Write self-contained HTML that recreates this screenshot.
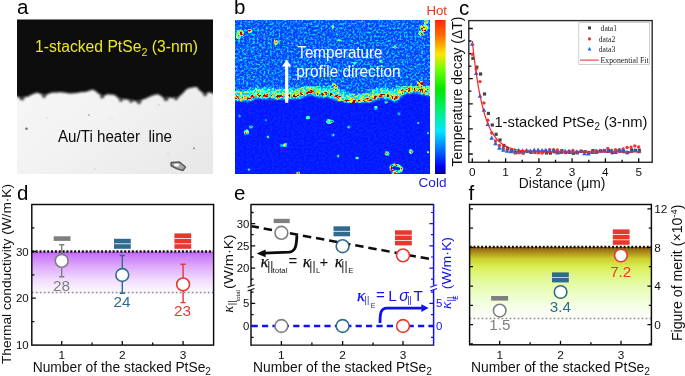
<!DOCTYPE html>
<html><head><meta charset="utf-8"><title>Figure</title>
<style>
html,body{margin:0;padding:0;background:#fff;}
body{width:685px;height:376px;overflow:hidden;}
svg{display:block;}
text{font-family:"Liberation Sans",sans-serif;}
.ser{font-family:"Liberation Serif",serif;}
.it{font-family:"Liberation Serif",serif;font-style:italic;}
.sit{font-family:"Liberation Sans",sans-serif;font-style:italic;}
</style></head><body>
<svg width="685" height="376" viewBox="0 0 685 376">
<defs>
<filter id="blur1" x="-5%" y="-5%" width="110%" height="110%"><feGaussianBlur stdDeviation="1.15"/></filter>
<filter id="blur2" x="-60%" y="-60%" width="220%" height="220%"><feGaussianBlur stdDeviation="0.7"/></filter>
<filter id="blur3" x="-60%" y="-60%" width="220%" height="220%"><feGaussianBlur stdDeviation="1.1"/></filter>
<linearGradient id="gA" x1="0" y1="0" x2="1" y2="1"><stop offset="0" stop-color="#f8f8f8"/><stop offset="0.5" stop-color="#f3f3f3"/><stop offset="1" stop-color="#e7e7e7"/></linearGradient>
<linearGradient id="gCB" x1="0" y1="0" x2="0" y2="1">
<stop offset="0" stop-color="#ff2a00"/><stop offset="0.10" stop-color="#ff6a00"/><stop offset="0.22" stop-color="#ffe600"/>
<stop offset="0.33" stop-color="#66ff00"/><stop offset="0.45" stop-color="#00e800"/><stop offset="0.58" stop-color="#00f070"/>
<stop offset="0.72" stop-color="#00e8ff"/><stop offset="0.85" stop-color="#0068ff"/><stop offset="0.95" stop-color="#0000f4"/><stop offset="1" stop-color="#000090"/>
</linearGradient>
<linearGradient id="gD" x1="0" y1="0" x2="0" y2="1"><stop offset="0" stop-color="#c064f8"/><stop offset="0.12" stop-color="#cc80f9"/><stop offset="0.35" stop-color="#dfacfb"/><stop offset="0.65" stop-color="#f1dcfd"/><stop offset="1" stop-color="#ffffff"/></linearGradient>
<linearGradient id="gF" x1="0" y1="0" x2="0" y2="1"><stop offset="0" stop-color="#8a5814"/><stop offset="0.07" stop-color="#a88a18"/><stop offset="0.16" stop-color="#cccc2c"/><stop offset="0.28" stop-color="#daf058"/><stop offset="0.5" stop-color="#e4fba4"/><stop offset="0.78" stop-color="#f2ffe0"/><stop offset="1" stop-color="#ffffff"/></linearGradient>
<clipPath id="cpA"><rect x="17" y="19.5" width="196" height="154.5"/></clipPath>
<clipPath id="cpB"><rect x="235" y="20" width="195" height="154"/></clipPath>
<filter id="jet" x="235" y="20" width="195" height="154" filterUnits="userSpaceOnUse" color-interpolation-filters="sRGB">
<feTurbulence type="fractalNoise" baseFrequency="0.47" numOctaves="3" seed="11" result="n"/>
<feColorMatrix in="n" type="matrix" values="2.8 0 0 0 -1.16  2.8 0 0 0 -1.16  2.8 0 0 0 -1.16  0 0 0 0 1" result="ng"/>
<feColorMatrix in="SourceGraphic" type="matrix" values="1 0 0 0 0  1 0 0 0 0  1 0 0 0 0  0 0 0 0 1" result="sR"/>
<feColorMatrix in="SourceGraphic" type="matrix" values="0 1 0 0 0  0 1 0 0 0  0 1 0 0 0  0 0 0 0 1" result="sG"/>
<feComposite in="sR" in2="ng" operator="arithmetic" k1="0.24" k2="0.0667" k3="-0.022" k4="0.1217" result="m1"/>
<feComposite in="sG" in2="ng" operator="arithmetic" k1="0.95" k2="0.6" k3="0" k4="0" result="hot"/>
<feBlend in="m1" in2="hot" mode="lighten" result="m"/>
<feComponentTransfer in="m">
<feFuncR type="table" tableValues="0.01 0.02 0.04 0.08 0.5 1 1 1 0.6"/>
<feFuncG type="table" tableValues="0 0.05 0.5 1 1 1 0.5 0.02 0"/>
<feFuncB type="table" tableValues="0.6 1 1 1 0.5 0 0 0 0"/>
<feFuncA type="linear" slope="0" intercept="1"/>
</feComponentTransfer>
</filter>
</defs>
<rect width="685" height="376" fill="#fff"/>

<text x="17" y="14.4" font-size="20.5" fill="#000" text-anchor="start" >a</text>
<text x="234" y="14.4" font-size="20.5" fill="#000" text-anchor="start" >b</text>
<text x="459" y="14.7" font-size="20.5" fill="#000" text-anchor="start" >c</text>
<text x="17" y="199.8" font-size="20.5" fill="#000" text-anchor="start" >d</text>
<text x="234" y="199.8" font-size="20.5" fill="#000" text-anchor="start" >e</text>
<text x="468.5" y="199.8" font-size="20.5" fill="#000" text-anchor="start" >f</text>
<g clip-path="url(#cpA)">
<rect x="17" y="19.5" width="196" height="154.5" fill="url(#gA)"/>
<path d="M10,10 L12.0,96.4 C12.8,96.4 15.5,96.3 17.0,96.6 C18.5,96.8 19.8,97.8 21.0,98.0 C22.2,98.1 22.8,97.4 24.0,97.2 C25.2,97.0 26.7,97.1 28.0,96.6 C29.3,96.2 30.5,95.1 32.0,94.5 C33.5,93.8 35.6,92.9 36.9,92.8 C38.2,92.6 38.8,93.4 40.0,93.8 C41.2,94.2 43.0,94.8 44.2,94.9 C45.5,95.0 46.3,94.7 47.5,94.3 C48.7,94.0 49.9,93.1 51.5,92.8 C53.1,92.5 55.0,92.5 57.0,92.5 C59.0,92.4 61.0,92.3 63.2,92.4 C65.4,92.6 67.6,93.4 70.0,93.4 C72.4,93.5 75.8,93.0 77.8,92.8 C79.8,92.6 80.8,92.3 82.0,92.1 C83.2,92.0 83.8,92.1 85.0,91.9 C86.2,91.7 87.8,91.2 89.0,90.8 C90.2,90.5 91.3,89.6 92.4,89.7 C93.5,89.7 94.5,90.4 95.5,91.1 C96.5,91.8 97.4,93.1 98.2,93.7 C99.0,94.3 99.8,94.1 100.5,94.5 C101.2,95.0 101.8,96.5 102.6,96.6 C103.4,96.6 104.5,95.4 105.5,95.0 C106.5,94.6 107.3,94.4 108.4,94.3 C109.5,94.3 110.9,94.7 112.0,94.8 C113.1,95.0 114.0,94.7 115.0,95.2 C116.0,95.7 117.0,97.3 118.0,97.9 C119.0,98.5 119.6,98.5 120.8,98.7 C122.0,98.9 123.5,99.1 125.0,99.3 C126.5,99.5 128.1,99.7 129.6,99.9 C131.1,100.2 132.5,100.4 134.0,100.7 C135.5,100.9 136.9,101.5 138.4,101.3 C139.9,101.2 141.6,100.1 143.0,99.6 C144.4,99.0 145.5,98.6 147.0,98.0 C148.5,97.3 150.3,96.3 152.0,95.7 C153.7,95.1 155.9,94.2 157.3,94.2 C158.7,94.2 159.6,95.0 160.5,95.5 C161.4,96.1 162.1,96.9 163.0,97.4 C163.9,97.9 165.0,98.5 166.0,98.5 C167.0,98.5 168.0,97.4 169.0,97.4 C170.0,97.3 171.0,98.0 172.0,98.0 C173.0,98.0 174.0,97.5 175.0,97.5 C176.0,97.5 176.9,98.2 177.8,97.8 C178.7,97.4 179.5,96.2 180.5,95.3 C181.5,94.5 182.7,93.5 183.6,92.6 C184.5,91.7 185.3,90.5 186.0,89.8 C186.7,89.1 187.0,88.8 188.0,88.4 C189.0,88.0 190.5,87.6 192.0,87.4 C193.5,87.2 195.6,86.8 196.8,87.2 C198.0,87.6 198.3,89.2 199.0,89.9 C199.7,90.6 200.3,90.9 201.0,91.4 C201.7,91.9 202.2,92.5 203.0,92.9 C203.8,93.3 204.7,94.0 205.5,94.0 C206.3,93.9 207.2,92.7 208.0,92.5 C208.8,92.2 209.2,92.3 210.0,92.5 C210.8,92.7 211.7,93.3 213.0,93.5 C214.3,93.8 217.2,94.1 218.0,94.2 L220,10 Z" fill="#0b0b0b" filter="url(#blur1)"/>
<circle cx="22" cy="98.2" r="2.4" fill="#222" opacity="0.8" filter="url(#blur3)"/>
<circle cx="44" cy="95.8" r="2.2" fill="#222" opacity="0.8" filter="url(#blur3)"/>
<circle cx="102" cy="96.4" r="2" fill="#222" opacity="0.8" filter="url(#blur3)"/>
<circle cx="121" cy="99.6" r="2.2" fill="#222" opacity="0.8" filter="url(#blur3)"/>
<circle cx="131" cy="100.8" r="2" fill="#222" opacity="0.8" filter="url(#blur3)"/>
<circle cx="139" cy="101.8" r="2.4" fill="#222" opacity="0.8" filter="url(#blur3)"/>
<circle cx="166" cy="98.8" r="2.4" fill="#222" opacity="0.8" filter="url(#blur3)"/>
<circle cx="176" cy="98.2" r="2" fill="#222" opacity="0.8" filter="url(#blur3)"/>
<circle cx="205" cy="94.2" r="2" fill="#222" opacity="0.8" filter="url(#blur3)"/>
<circle cx="26.5" cy="128.7" r="1.3" fill="#777" filter="url(#blur2)"/>
<circle cx="89" cy="115" r="0.9" fill="#aaa" filter="url(#blur2)"/>
<circle cx="47" cy="118" r="0.6" fill="#bbb" filter="url(#blur2)"/>
<circle cx="194" cy="148.3" r="1.1" fill="#9a9a9a" filter="url(#blur2)"/>
<circle cx="168" cy="154" r="0.7" fill="#c4c4c4" filter="url(#blur2)"/>
<circle cx="159" cy="105" r="0.7" fill="#bbb" filter="url(#blur2)"/>
<circle cx="95" cy="169" r="0.7" fill="#c8c8c8" filter="url(#blur2)"/>
<circle cx="112" cy="119" r="0.6" fill="#c8c8c8" filter="url(#blur2)"/>
<path d="M171.2,162.6 L179.4,162 L185.4,167 L183,170.4 L177,168.8 L171.2,165.8 Z" fill="#a8a8a8" stroke="#5a5a5a" stroke-width="1.6" stroke-linejoin="round" filter="url(#blur2)"/>
<ellipse cx="176.6" cy="165" rx="2.6" ry="1.5" fill="#fff" filter="url(#blur2)"/>
</g>
<text x="35" y="51.7" font-size="16" fill="#ece81e" text-anchor="start" textLength="163" lengthAdjust="spacingAndGlyphs">1-stacked PtSe<tspan font-size="11" dy="3.8">2</tspan><tspan dy="-3.8"> (3-nm)</tspan></text>
<text x="58" y="141.7" font-size="15.8" fill="#0a0a0a" text-anchor="start" xml:space="preserve" textLength="114" lengthAdjust="spacingAndGlyphs">Au/Ti heater  line</text>
<g clip-path="url(#cpB)"><g filter="url(#jet)">
<rect x="235" y="20" width="195" height="154" fill="rgb(51,0,0)"/>
<path d="M230,15 L230,97.3 L234.0,97.3 L241.0,98.2 L247.0,98.7 L253.0,96.4 L258.0,94.7 L264.0,95.6 L271.0,95.3 L278.0,96.2 L285.0,96.0 L292.0,95.8 L298.0,95.3 L305.0,93.0 L311.0,91.3 L316.0,92.6 L320.0,94.5 L328.0,93.6 L336.6,96.6 L344.0,100.0 L351.0,101.6 L358.0,101.4 L364.0,100.8 L371.0,99.0 L377.0,96.2 L384.0,95.0 L391.0,96.6 L395.0,98.6 L398.0,95.0 L402.0,91.4 L410.0,89.8 L418.0,89.4 L424.0,91.4 L431.0,93.5 L436,15 Z" fill="rgb(204,0,0)"/>
<g style="mix-blend-mode:screen">
<path d="M234.0,95.1 L241.0,96.0 L247.0,96.5 L253.0,94.2 L258.0,92.5 L264.0,93.4 L271.0,93.1 L278.0,94.0 L285.0,93.8 L292.0,93.6 L298.0,93.1 L305.0,90.8 L311.0,89.1 L316.0,90.4 L320.0,92.3 L328.0,91.4 L336.6,94.4 L344.0,97.8 L351.0,99.4 L358.0,99.2 L364.0,98.6 L371.0,96.8 L377.0,94.0 L384.0,92.8 L391.0,94.4 L395.0,96.4 L398.0,92.8 L402.0,89.2 L410.0,87.6 L418.0,87.2 L424.0,89.2 L431.0,91.3" fill="none" stroke="rgb(0,98,0)" stroke-width="10" stroke-linejoin="round" filter="url(#blur1)"/>
<path d="M234.0,97.3 L241.0,98.2 L247.0,98.7 L253.0,96.4 L258.0,94.7 L264.0,95.6 L271.0,95.3 L278.0,96.2 L285.0,96.0 L292.0,95.8 L298.0,95.3 L305.0,93.0 L311.0,91.3 L316.0,92.6 L320.0,94.5 L328.0,93.6 L336.6,96.6 L344.0,100.0 L351.0,101.6 L358.0,101.4 L364.0,100.8 L371.0,99.0 L377.0,96.2 L384.0,95.0 L391.0,96.6 L395.0,98.6 L398.0,95.0 L402.0,91.4 L410.0,89.8 L418.0,89.4 L424.0,91.4 L431.0,93.5" fill="none" stroke="rgb(0,150,0)" stroke-width="5.6" stroke-linejoin="round" stroke-dasharray="11 2 6 2 14 3" filter="url(#blur1)"/>
<path d="M234.0,97.3 L241.0,98.2 L247.0,98.7 L253.0,96.4 L258.0,94.7 L264.0,95.6 L271.0,95.3 L278.0,96.2 L285.0,96.0 L292.0,95.8 L298.0,95.3 L305.0,93.0 L311.0,91.3 L316.0,92.6 L320.0,94.5 L328.0,93.6 L336.6,96.6 L344.0,100.0 L351.0,101.6 L358.0,101.4 L364.0,100.8 L371.0,99.0 L377.0,96.2 L384.0,95.0 L391.0,96.6 L395.0,98.6 L398.0,95.0 L402.0,91.4 L410.0,89.8 L418.0,89.4 L424.0,91.4 L431.0,93.5" fill="none" stroke="rgb(0,255,0)" stroke-width="2.8" stroke-linejoin="round" stroke-dasharray="5 3 2 3 7 4 3 3" filter="url(#blur2)"/>
<ellipse cx="396.2" cy="168.4" rx="5.6" ry="3.3" transform="rotate(14 396.2 168.4)" fill="none" stroke="rgb(0,205,0)" stroke-width="2.4" filter="url(#blur2)"/>
<circle cx="240.5" cy="33" r="3.2" fill="rgb(0,200,0)" filter="url(#blur2)"/>
<circle cx="238.5" cy="36.5" r="2.4" fill="rgb(0,170,0)" filter="url(#blur2)"/>
<circle cx="250" cy="31" r="2.2" fill="rgb(0,170,0)" filter="url(#blur2)"/>
<circle cx="276" cy="42.5" r="2.4" fill="rgb(0,170,0)" filter="url(#blur2)"/>
<circle cx="424" cy="28" r="3.6" fill="rgb(0,210,0)" filter="url(#blur2)"/>
<circle cx="421" cy="33" r="2.6" fill="rgb(0,190,0)" filter="url(#blur2)"/>
<circle cx="426" cy="22" r="2.4" fill="rgb(0,170,0)" filter="url(#blur2)"/>
<circle cx="333" cy="27" r="1.4" fill="rgb(0,130,0)" filter="url(#blur2)"/>
<circle cx="339" cy="40" r="1.4" fill="rgb(0,130,0)" filter="url(#blur2)"/>
<circle cx="395" cy="47" r="1.6" fill="rgb(0,140,0)" filter="url(#blur2)"/>
<circle cx="355" cy="63" r="1.6" fill="rgb(0,130,0)" filter="url(#blur2)"/>
<circle cx="381" cy="61" r="1.4" fill="rgb(0,130,0)" filter="url(#blur2)"/>
<circle cx="420" cy="84" r="3.2" fill="rgb(0,200,0)" filter="url(#blur2)"/>
<circle cx="426" cy="90" r="2.6" fill="rgb(0,200,0)" filter="url(#blur2)"/>
<circle cx="336" cy="88" r="2.4" fill="rgb(0,190,0)" filter="url(#blur2)"/>
<circle cx="334" cy="84.5" r="1.8" fill="rgb(0,170,0)" filter="url(#blur2)"/>
<circle cx="246.5" cy="132" r="2.6" fill="rgb(0,146,0)" filter="url(#blur2)"/>
<circle cx="251" cy="127" r="1.8" fill="rgb(0,120,0)" filter="url(#blur2)"/>
<circle cx="239.5" cy="116" r="1.4" fill="rgb(0,94,0)" filter="url(#blur2)"/>
<circle cx="308" cy="117.5" r="2" fill="rgb(0,129,0)" filter="url(#blur2)"/>
<circle cx="329" cy="121.5" r="2.6" fill="rgb(0,163,0)" filter="url(#blur2)"/>
<circle cx="332" cy="121" r="1.6" fill="rgb(0,146,0)" filter="url(#blur2)"/>
<circle cx="285" cy="145" r="2" fill="rgb(0,137,0)" filter="url(#blur2)"/>
<circle cx="281.5" cy="145.5" r="1.4" fill="rgb(0,120,0)" filter="url(#blur2)"/>
<circle cx="333" cy="135" r="1.6" fill="rgb(0,111,0)" filter="url(#blur2)"/>
<circle cx="338" cy="156" r="1.4" fill="rgb(0,111,0)" filter="url(#blur2)"/>
<circle cx="268" cy="137" r="1.4" fill="rgb(0,98,0)" filter="url(#blur2)"/>
<circle cx="266" cy="120" r="1.2" fill="rgb(0,94,0)" filter="url(#blur2)"/>
<circle cx="249" cy="169.5" r="1.2" fill="rgb(0,120,0)" filter="url(#blur2)"/>
<circle cx="298" cy="173" r="1.8" fill="rgb(0,129,0)" filter="url(#blur2)"/>
<circle cx="376" cy="108" r="2" fill="rgb(0,120,0)" filter="url(#blur2)"/>
<circle cx="399" cy="114" r="1.4" fill="rgb(0,107,0)" filter="url(#blur2)"/>
<circle cx="349" cy="127" r="1.6" fill="rgb(0,107,0)" filter="url(#blur2)"/>
<circle cx="418" cy="123" r="1.2" fill="rgb(0,103,0)" filter="url(#blur2)"/>
<circle cx="387" cy="153.5" r="2.4" fill="rgb(0,137,0)" filter="url(#blur2)"/>
<circle cx="411" cy="151.5" r="2.2" fill="rgb(0,146,0)" filter="url(#blur2)"/>
<circle cx="357" cy="158" r="1.6" fill="rgb(0,111,0)" filter="url(#blur2)"/>
<circle cx="428" cy="152" r="1.2" fill="rgb(0,120,0)" filter="url(#blur2)"/>
<circle cx="428" cy="133" r="1.2" fill="rgb(0,111,0)" filter="url(#blur2)"/>
<circle cx="393" cy="172.6" r="1.6" fill="rgb(0,129,0)" filter="url(#blur2)"/>
<circle cx="386" cy="102" r="1.6" fill="rgb(0,130,0)" filter="url(#blur2)"/>
</g></g></g>
<rect x="435" y="20" width="10.6" height="154" fill="url(#gCB)"/>
<text x="426.4" y="14.6" font-size="13.2" fill="#f03418" text-anchor="start" >Hot</text>
<text x="418.5" y="187.3" font-size="13.6" fill="#1c1ce0" text-anchor="start" >Cold</text>
<path d="M286.7,59.6 L291.4,66.6 L288.3,66.6 L288.3,102.8 L285.1,102.8 L285.1,66.6 L282,66.6 Z" fill="#fff"/>
<text x="297.3" y="58" font-size="15.8" fill="#ffffff" text-anchor="start" textLength="85.2" lengthAdjust="spacingAndGlyphs">Temperature</text>
<text x="296.3" y="77.1" font-size="15.8" fill="#ffffff" text-anchor="start" textLength="104.3" lengthAdjust="spacingAndGlyphs">profile direction</text>
<rect x="468.8" y="20.6" width="183.40000000000003" height="141.70000000000002" fill="#fff" stroke="#2a2a2a" stroke-width="1.4"/>
<text x="472.3" y="175.9" font-size="11.8" fill="#111" text-anchor="middle" >0</text>
<text x="505.6" y="175.9" font-size="11.8" fill="#111" text-anchor="middle" >1</text>
<text x="538.9" y="175.9" font-size="11.8" fill="#111" text-anchor="middle" >2</text>
<text x="572.1" y="175.9" font-size="11.8" fill="#111" text-anchor="middle" >3</text>
<text x="605.4" y="175.9" font-size="11.8" fill="#111" text-anchor="middle" >4</text>
<text x="638.7" y="175.9" font-size="11.8" fill="#111" text-anchor="middle" >5</text>
<path d="M468.8,28.5h4 M468.8,41.0h2.6 M468.8,53.6h4 M468.8,66.2h2.6 M468.8,78.7h4 M468.8,91.2h2.6 M468.8,103.8h4 M468.8,116.4h2.6 M468.8,128.9h4 M468.8,141.5h2.6 M468.8,154.0h4 M472.3,162.3v-4 M488.9,162.3v-2.6 M505.6,162.3v-4 M522.2,162.3v-2.6 M538.9,162.3v-4 M555.5,162.3v-2.6 M572.1,162.3v-4 M588.8,162.3v-2.6 M605.4,162.3v-4 M622.1,162.3v-2.6 M638.7,162.3v-4" stroke="#0a0a0a" stroke-width="1.3" fill="none"/>
<text x="518.8" y="187.6" font-size="14" fill="#111" text-anchor="start" textLength="86.5" lengthAdjust="spacingAndGlyphs">Distance (μm)</text>
<text transform="translate(461.9,91.6) rotate(-90)" font-size="13.9" fill="#111" text-anchor="middle" textLength="149.8" lengthAdjust="spacingAndGlyphs">Temperature decay (ΔT)</text>
<rect x="471.3" y="56.7" width="3.2" height="3.2" fill="#444"/>
<rect x="475.2" y="65.6" width="3.2" height="3.2" fill="#444"/>
<rect x="479.0" y="72.4" width="3.2" height="3.2" fill="#444"/>
<rect x="482.9" y="92.4" width="3.2" height="3.2" fill="#444"/>
<rect x="486.8" y="111.8" width="3.2" height="3.2" fill="#444"/>
<rect x="490.7" y="123.4" width="3.2" height="3.2" fill="#444"/>
<rect x="494.5" y="132.7" width="3.2" height="3.2" fill="#444"/>
<rect x="498.4" y="138.4" width="3.2" height="3.2" fill="#444"/>
<rect x="502.3" y="143.9" width="3.2" height="3.2" fill="#444"/>
<rect x="506.1" y="146.9" width="3.2" height="3.2" fill="#444"/>
<rect x="510.0" y="148.9" width="3.2" height="3.2" fill="#444"/>
<rect x="513.9" y="151.0" width="3.2" height="3.2" fill="#444"/>
<rect x="517.7" y="150.5" width="3.2" height="3.2" fill="#444"/>
<rect x="521.6" y="151.4" width="3.2" height="3.2" fill="#444"/>
<rect x="525.5" y="149.8" width="3.2" height="3.2" fill="#444"/>
<rect x="529.4" y="150.8" width="3.2" height="3.2" fill="#444"/>
<rect x="533.2" y="150.6" width="3.2" height="3.2" fill="#444"/>
<rect x="537.1" y="150.5" width="3.2" height="3.2" fill="#444"/>
<rect x="541.0" y="150.2" width="3.2" height="3.2" fill="#444"/>
<rect x="544.8" y="151.3" width="3.2" height="3.2" fill="#444"/>
<rect x="548.7" y="151.5" width="3.2" height="3.2" fill="#444"/>
<rect x="552.6" y="150.2" width="3.2" height="3.2" fill="#444"/>
<rect x="556.4" y="150.8" width="3.2" height="3.2" fill="#444"/>
<rect x="560.3" y="149.1" width="3.2" height="3.2" fill="#444"/>
<rect x="564.2" y="150.9" width="3.2" height="3.2" fill="#444"/>
<rect x="568.0" y="150.7" width="3.2" height="3.2" fill="#444"/>
<rect x="571.9" y="151.7" width="3.2" height="3.2" fill="#444"/>
<rect x="575.8" y="151.2" width="3.2" height="3.2" fill="#444"/>
<rect x="579.7" y="149.7" width="3.2" height="3.2" fill="#444"/>
<rect x="583.5" y="150.0" width="3.2" height="3.2" fill="#444"/>
<rect x="587.4" y="150.8" width="3.2" height="3.2" fill="#444"/>
<rect x="591.3" y="149.0" width="3.2" height="3.2" fill="#444"/>
<rect x="595.1" y="150.2" width="3.2" height="3.2" fill="#444"/>
<rect x="599.0" y="149.4" width="3.2" height="3.2" fill="#444"/>
<rect x="602.9" y="149.2" width="3.2" height="3.2" fill="#444"/>
<rect x="606.8" y="149.1" width="3.2" height="3.2" fill="#444"/>
<rect x="610.6" y="151.1" width="3.2" height="3.2" fill="#444"/>
<rect x="614.5" y="149.3" width="3.2" height="3.2" fill="#444"/>
<rect x="618.4" y="149.6" width="3.2" height="3.2" fill="#444"/>
<rect x="622.2" y="150.0" width="3.2" height="3.2" fill="#444"/>
<rect x="626.1" y="150.9" width="3.2" height="3.2" fill="#444"/>
<rect x="630.0" y="148.3" width="3.2" height="3.2" fill="#444"/>
<rect x="633.8" y="148.8" width="3.2" height="3.2" fill="#444"/>
<rect x="637.7" y="148.7" width="3.2" height="3.2" fill="#444"/>
<circle cx="472.3" cy="54.2" r="1.7" fill="#f03434"/>
<circle cx="476.2" cy="69.0" r="1.7" fill="#f03434"/>
<circle cx="480.0" cy="81.6" r="1.7" fill="#f03434"/>
<circle cx="483.9" cy="103.0" r="1.7" fill="#f03434"/>
<circle cx="487.8" cy="120.3" r="1.7" fill="#f03434"/>
<circle cx="491.7" cy="133.0" r="1.7" fill="#f03434"/>
<circle cx="495.5" cy="141.0" r="1.7" fill="#f03434"/>
<circle cx="499.4" cy="145.5" r="1.7" fill="#f03434"/>
<circle cx="503.3" cy="148.3" r="1.7" fill="#f03434"/>
<circle cx="507.1" cy="150.0" r="1.7" fill="#f03434"/>
<circle cx="511.0" cy="151.0" r="1.7" fill="#f03434"/>
<circle cx="514.9" cy="152.9" r="1.7" fill="#f03434"/>
<circle cx="518.7" cy="152.7" r="1.7" fill="#f03434"/>
<circle cx="522.6" cy="152.8" r="1.7" fill="#f03434"/>
<circle cx="526.5" cy="151.2" r="1.7" fill="#f03434"/>
<circle cx="530.4" cy="151.6" r="1.7" fill="#f03434"/>
<circle cx="534.2" cy="151.4" r="1.7" fill="#f03434"/>
<circle cx="538.1" cy="152.9" r="1.7" fill="#f03434"/>
<circle cx="542.0" cy="153.1" r="1.7" fill="#f03434"/>
<circle cx="545.8" cy="150.8" r="1.7" fill="#f03434"/>
<circle cx="549.7" cy="149.7" r="1.7" fill="#f03434"/>
<circle cx="553.6" cy="149.8" r="1.7" fill="#f03434"/>
<circle cx="557.4" cy="149.9" r="1.7" fill="#f03434"/>
<circle cx="561.3" cy="151.8" r="1.7" fill="#f03434"/>
<circle cx="565.2" cy="152.0" r="1.7" fill="#f03434"/>
<circle cx="569.0" cy="151.1" r="1.7" fill="#f03434"/>
<circle cx="572.9" cy="150.4" r="1.7" fill="#f03434"/>
<circle cx="576.8" cy="151.6" r="1.7" fill="#f03434"/>
<circle cx="580.7" cy="151.4" r="1.7" fill="#f03434"/>
<circle cx="584.5" cy="152.0" r="1.7" fill="#f03434"/>
<circle cx="588.4" cy="152.8" r="1.7" fill="#f03434"/>
<circle cx="592.3" cy="151.6" r="1.7" fill="#f03434"/>
<circle cx="596.1" cy="150.8" r="1.7" fill="#f03434"/>
<circle cx="600.0" cy="150.7" r="1.7" fill="#f03434"/>
<circle cx="603.9" cy="150.5" r="1.7" fill="#f03434"/>
<circle cx="607.8" cy="148.4" r="1.7" fill="#f03434"/>
<circle cx="611.6" cy="150.4" r="1.7" fill="#f03434"/>
<circle cx="615.5" cy="149.7" r="1.7" fill="#f03434"/>
<circle cx="619.4" cy="149.6" r="1.7" fill="#f03434"/>
<circle cx="623.2" cy="149.0" r="1.7" fill="#f03434"/>
<circle cx="627.1" cy="147.5" r="1.7" fill="#f03434"/>
<circle cx="631.0" cy="147.1" r="1.7" fill="#f03434"/>
<circle cx="634.8" cy="145.9" r="1.7" fill="#f03434"/>
<circle cx="638.7" cy="147.0" r="1.7" fill="#f03434"/>
<path d="M472.3,41.5l2.3,4.2h-4.6z" fill="#2362e0"/>
<path d="M476.2,70.7l2.3,4.2h-4.6z" fill="#2362e0"/>
<path d="M480.0,93.5l2.3,4.2h-4.6z" fill="#2362e0"/>
<path d="M483.9,107.5l2.3,4.2h-4.6z" fill="#2362e0"/>
<path d="M487.8,121.8l2.3,4.2h-4.6z" fill="#2362e0"/>
<path d="M491.7,135.5l2.3,4.2h-4.6z" fill="#2362e0"/>
<path d="M495.5,141.0l2.3,4.2h-4.6z" fill="#2362e0"/>
<path d="M499.4,145.5l2.3,4.2h-4.6z" fill="#2362e0"/>
<path d="M503.3,147.5l2.3,4.2h-4.6z" fill="#2362e0"/>
<path d="M507.1,148.5l2.3,4.2h-4.6z" fill="#2362e0"/>
<path d="M511.0,149.0l2.3,4.2h-4.6z" fill="#2362e0"/>
<path d="M514.9,148.2l2.3,4.2h-4.6z" fill="#2362e0"/>
<path d="M518.7,148.0l2.3,4.2h-4.6z" fill="#2362e0"/>
<path d="M522.6,148.3l2.3,4.2h-4.6z" fill="#2362e0"/>
<path d="M526.5,148.0l2.3,4.2h-4.6z" fill="#2362e0"/>
<path d="M530.4,148.4l2.3,4.2h-4.6z" fill="#2362e0"/>
<path d="M534.2,147.6l2.3,4.2h-4.6z" fill="#2362e0"/>
<path d="M538.1,147.4l2.3,4.2h-4.6z" fill="#2362e0"/>
<path d="M542.0,147.9l2.3,4.2h-4.6z" fill="#2362e0"/>
<path d="M545.8,147.8l2.3,4.2h-4.6z" fill="#2362e0"/>
<path d="M549.7,148.6l2.3,4.2h-4.6z" fill="#2362e0"/>
<path d="M553.6,147.8l2.3,4.2h-4.6z" fill="#2362e0"/>
<path d="M557.4,150.4l2.3,4.2h-4.6z" fill="#2362e0"/>
<path d="M561.3,149.8l2.3,4.2h-4.6z" fill="#2362e0"/>
<path d="M565.2,148.7l2.3,4.2h-4.6z" fill="#2362e0"/>
<path d="M569.0,149.1l2.3,4.2h-4.6z" fill="#2362e0"/>
<path d="M572.9,149.5l2.3,4.2h-4.6z" fill="#2362e0"/>
<path d="M576.8,149.6l2.3,4.2h-4.6z" fill="#2362e0"/>
<path d="M580.7,148.9l2.3,4.2h-4.6z" fill="#2362e0"/>
<path d="M584.5,151.0l2.3,4.2h-4.6z" fill="#2362e0"/>
<path d="M588.4,151.3l2.3,4.2h-4.6z" fill="#2362e0"/>
<path d="M592.3,149.7l2.3,4.2h-4.6z" fill="#2362e0"/>
<path d="M596.1,149.7l2.3,4.2h-4.6z" fill="#2362e0"/>
<path d="M600.0,148.4l2.3,4.2h-4.6z" fill="#2362e0"/>
<path d="M603.9,148.3l2.3,4.2h-4.6z" fill="#2362e0"/>
<path d="M607.8,148.8l2.3,4.2h-4.6z" fill="#2362e0"/>
<path d="M611.6,148.4l2.3,4.2h-4.6z" fill="#2362e0"/>
<path d="M615.5,149.9l2.3,4.2h-4.6z" fill="#2362e0"/>
<path d="M619.4,147.9l2.3,4.2h-4.6z" fill="#2362e0"/>
<path d="M623.2,147.5l2.3,4.2h-4.6z" fill="#2362e0"/>
<path d="M627.1,150.1l2.3,4.2h-4.6z" fill="#2362e0"/>
<path d="M631.0,148.9l2.3,4.2h-4.6z" fill="#2362e0"/>
<path d="M634.8,147.9l2.3,4.2h-4.6z" fill="#2362e0"/>
<path d="M638.7,149.1l2.3,4.2h-4.6z" fill="#2362e0"/>
<polyline points="472.3,41.0 473.3,50.3 474.3,58.9 475.3,66.7 476.3,73.8 477.3,80.4 478.3,86.4 479.3,91.9 480.3,97.0 481.3,101.6 482.3,105.8 483.3,109.7 484.3,113.3 485.3,116.5 486.3,119.5 487.3,122.2 488.3,124.7 489.3,127.0 490.3,129.1 491.3,131.0 492.3,132.8 493.3,134.4 494.3,135.9 495.3,137.2 496.3,138.5 497.3,139.6 498.3,140.7 499.3,141.6 500.3,142.5 501.3,143.3 502.3,144.0 503.3,144.7 504.3,145.3 505.3,145.9 506.3,146.4 507.3,146.8 508.3,147.3 509.3,147.7 510.3,148.0 511.3,148.4 512.3,148.7 513.3,149.0 514.3,149.2 515.3,149.4 516.3,149.7 517.3,149.9 518.3,150.0 519.3,150.2 520.3,150.4 521.3,150.5 522.3,150.6 523.3,150.7 524.3,150.8 525.3,150.9 526.3,151.0 527.3,151.1 528.3,151.2 529.3,151.3 530.3,151.3 531.3,151.4 532.3,151.4 533.3,151.5 534.3,151.5 535.3,151.6 536.3,151.6 537.3,151.6 538.3,151.7 539.3,151.7 540.3,151.7 541.3,151.7 542.3,151.8 543.3,151.8 544.3,151.8 545.3,151.8 546.3,151.8 547.3,151.8 548.3,151.9 549.3,151.9 550.3,151.9 551.3,151.9 552.3,151.9 553.3,151.9 554.3,151.9 555.3,151.9 556.3,151.9 557.3,151.9 558.3,151.9 559.3,151.9 560.3,152.0 561.3,152.0 562.3,152.0 563.3,152.0 564.3,152.0 565.3,152.0 566.3,152.0 567.3,152.0 568.3,152.0 569.3,152.0 570.3,152.0 571.3,152.0 572.3,152.0 573.3,152.0 574.3,152.0 575.3,152.0 576.3,152.0 577.3,152.0 578.3,152.0 579.3,152.0 580.3,152.0 581.3,152.0 582.3,152.0 583.3,152.0 584.3,152.0 585.3,152.0 586.3,152.0 587.3,152.0 588.3,152.0 589.3,152.0 590.3,152.0 591.3,152.0 592.3,152.0 593.3,152.0 594.3,152.0 595.3,152.0 596.3,152.0 597.3,152.0 598.3,152.0 599.3,152.0 600.3,152.0 601.3,152.0 602.3,152.0 603.3,152.0 604.3,152.0 605.3,152.0 606.3,152.0 607.3,152.0 608.3,152.0 609.3,152.0 610.3,152.0 611.3,152.0 612.3,152.0 613.3,152.0 614.3,152.0 615.3,152.0 616.3,152.0 617.3,152.0 618.3,152.0 619.3,152.0 620.3,152.0 621.3,152.0 622.3,152.0 623.3,152.0 624.3,152.0 625.3,152.0 626.3,152.0 627.3,152.0 628.3,152.0 629.3,152.0 630.3,152.0 631.3,152.0 632.3,152.0 633.3,152.0 634.3,152.0 635.3,152.0 636.3,152.0 637.3,152.0 638.3,152.0 639.3,152.0 640.3,152.0 641.3,152.0" fill="none" stroke="#f02626" stroke-width="1.2"/>
<text x="494.4" y="126.7" font-size="15" fill="#111" text-anchor="start" textLength="153" lengthAdjust="spacingAndGlyphs">1-stacked PtSe<tspan font-size="10" dy="3.2">2</tspan><tspan dy="-3.2"> (3-nm)</tspan></text>
<rect x="578.8" y="22.4" width="70.8" height="42.2" fill="#fff" stroke="#bdbdbd" stroke-width="0.7"/>
<rect x="588" y="26.4" width="3" height="3" fill="#444"/>
<circle cx="589.5" cy="38.9" r="1.6" fill="#f03434"/>
<path d="M589.5,47l2,3.6h-4z" fill="#2362e0"/>
<path d="M580,60.1h18.8" stroke="#f02626" stroke-width="1"/>
<text x="600.6" y="30.7" font-size="7.6" fill="#222" text-anchor="start" class="ser" >data1</text>
<text x="598.8" y="41.8" font-size="7.6" fill="#222" text-anchor="start" class="ser" >data2</text>
<text x="598.8" y="51.9" font-size="7.6" fill="#222" text-anchor="start" class="ser" >data3</text>
<text x="600.6" y="62.6" font-size="7.6" fill="#222" text-anchor="start" class="ser" textLength="48" lengthAdjust="spacingAndGlyphs">Exponential Fit</text>
<rect x="31.8" y="251.5" width="181.79999999999998" height="44" fill="url(#gD)"/>
<path d="M31.8,251.5H213.6" stroke="#111" stroke-width="2.3" stroke-dasharray="2 1.85" fill="none"/>
<path d="M31.8,292.5H213.6" stroke="#8a8a8a" stroke-width="1.4" stroke-dasharray="1.7 2.3" fill="none"/>
<rect x="31.8" y="204.5" width="181.79999999999998" height="140.60000000000002" fill="none" stroke="#0a0a0a" stroke-width="1.45"/>
<text x="28.7" y="255.6" font-size="11.5" fill="#111" text-anchor="end" >30</text>
<text x="28.7" y="302.3" font-size="11.5" fill="#111" text-anchor="end" >20</text>
<text x="28.7" y="349.20000000000005" font-size="11.5" fill="#111" text-anchor="end" >10</text>
<text x="61.7" y="358.7" font-size="11.8" fill="#111" text-anchor="middle" >1</text>
<text x="122.3" y="358.7" font-size="11.8" fill="#111" text-anchor="middle" >2</text>
<text x="183.1" y="358.7" font-size="11.8" fill="#111" text-anchor="middle" >3</text>
<path d="M31.8,227.9h2.6 M31.8,251.5h4 M31.8,274.9h2.6 M31.8,298.2h4 M31.8,321.6h2.6 M61.7,345.1v-4 M92.1,345.1v-2.6 M122.3,345.1v-4 M152.7,345.1v-2.6 M183.1,345.1v-4" stroke="#0a0a0a" stroke-width="1.3" fill="none"/>
<path d="M61.7,244.8V276.8M59.1,244.8h5.2M59.1,276.8h5.2" stroke="#7f7f7f" stroke-width="1.4" fill="none"/>
<circle cx="61.7" cy="260.8" r="6.4" fill="#fff" stroke="#7f7f7f" stroke-width="1.6"/>
<path d="M122.3,255.5V293.3M119.7,255.5h5.2M119.7,293.3h5.2" stroke="#2f6b8f" stroke-width="1.4" fill="none"/>
<circle cx="122.3" cy="275" r="6.4" fill="#fff" stroke="#2f6b8f" stroke-width="1.6"/>
<path d="M183.1,264.3V302.6M180.5,264.3h5.2M180.5,302.6h5.2" stroke="#e8382e" stroke-width="1.4" fill="none"/>
<circle cx="183.1" cy="284.4" r="6.4" fill="#fff" stroke="#e8382e" stroke-width="1.6"/>
<rect x="53.7" y="236.3" width="16.8" height="4.6" fill="#7f7f7f"/>
<rect x="114.0" y="244.2" width="16.8" height="4.6" fill="#2f6b8f"/>
<rect x="114.0" y="238.8" width="16.8" height="4.6" fill="#2f6b8f"/>
<rect x="174.4" y="244.2" width="16.8" height="4.6" fill="#e8382e"/>
<rect x="174.4" y="238.8" width="16.8" height="4.6" fill="#e8382e"/>
<rect x="174.4" y="233.4" width="16.8" height="4.6" fill="#e8382e"/>
<text x="61.4" y="290.6" font-size="15.3" fill="#7f7f7f" text-anchor="middle" >28</text>
<text x="122.0" y="307.4" font-size="15.3" fill="#2f6b8f" text-anchor="middle" >24</text>
<text x="182.5" y="316.4" font-size="15.3" fill="#e8382e" text-anchor="middle" >23</text>
<text x="32.7" y="371.8" font-size="13.9" fill="#111" text-anchor="start" textLength="178.3" lengthAdjust="spacingAndGlyphs">Number of the stacked PtSe<tspan font-size="10.2" dy="3.6">2</tspan></text>
<text transform="translate(11.2,274) rotate(-90)" font-size="13.7" fill="#111" text-anchor="middle" textLength="180" lengthAdjust="spacingAndGlyphs">Thermal conductivity (W/m·K)</text>
<path d="M251,204.5H433.6" stroke="#0a0a0a" stroke-width="1.45" fill="none"/>
<path d="M251,345.1H433.6" stroke="#0a0a0a" stroke-width="1.45" fill="none"/>
<path d="M251,203.9V345.70000000000005" stroke="#0a0a0a" stroke-width="1.45" fill="none"/>
<path d="M433.6,203.9V345.70000000000005" stroke="#1010f0" stroke-width="1.5" fill="none"/>
<rect x="248" y="285.6" width="6" height="4.4" fill="#fff"/><path d="M247.6,287.2l6.8,-2.4M247.6,291l6.8,-2.4" stroke="#0a0a0a" stroke-width="1.1"/>
<rect x="430.6" y="285.6" width="6" height="4.4" fill="#fff"/><path d="M430.20000000000005,287.2l6.8,-2.4M430.20000000000005,291l6.8,-2.4" stroke="#1010f0" stroke-width="1.1"/>
<text x="249.3" y="227.6" font-size="11.4" fill="#111" text-anchor="end" >30</text>
<text x="249.3" y="249.8" font-size="11.4" fill="#111" text-anchor="end" >25</text>
<text x="249.3" y="272.1" font-size="11.4" fill="#111" text-anchor="end" >20</text>
<text x="249.3" y="307.4" font-size="11.4" fill="#111" text-anchor="end" >5</text>
<text x="435.9" y="307.4" font-size="11.4" fill="#1010f0" text-anchor="start" >5</text>
<text x="249.3" y="330.0" font-size="11.4" fill="#111" text-anchor="end" >0</text>
<text x="435.9" y="330.0" font-size="11.4" fill="#1010f0" text-anchor="start" >0</text>
<text x="281.4" y="358.7" font-size="11.8" fill="#111" text-anchor="middle" >1</text>
<text x="342.6" y="358.7" font-size="11.8" fill="#111" text-anchor="middle" >2</text>
<text x="403" y="358.7" font-size="11.8" fill="#111" text-anchor="middle" >3</text>
<path d="M251,223.6h4.2 M251,245.8h4.2 M251,268.1h4.2 M251,212.5h2.6 M251,234.7h2.6 M251,257h2.6 M251,279.2h2.6 M251,303.4h4.2 M251,326h4.2 M251,314.7h2.6 M251,337.3h2.6 M251,292.2h2.6 M281.4,345.1v-4 M311.9,345.1v-2.6 M342.6,345.1v-4 M373.1,345.1v-2.6 M403,345.1v-4" stroke="#0a0a0a" stroke-width="1.3" fill="none"/>
<path d="M433.6,223.6h-4.2 M433.6,245.8h-4.2 M433.6,268.1h-4.2 M433.6,212.5h-2.6 M433.6,234.7h-2.6 M433.6,257h-2.6 M433.6,279.2h-2.6 M433.6,303.4h-4.2 M433.6,326h-4.2 M433.6,314.7h-2.6 M433.6,337.3h-2.6 M433.6,292.2h-2.6" stroke="#1010f0" stroke-width="1.2" fill="none"/>
<path d="M251.6,226.2L433.0,259.6" stroke="#0c0c0c" stroke-width="2.5" stroke-dasharray="8.4 4.9" stroke-dashoffset="1" fill="none"/>
<path d="M251.6,326H433.0" stroke="#1010f0" stroke-width="2.5" stroke-dasharray="6.2 4.2" fill="none"/>
<circle cx="281.4" cy="232.8" r="6.4" fill="#fff" stroke="#7f7f7f" stroke-width="1.6"/>
<circle cx="342.6" cy="246.2" r="6.4" fill="#fff" stroke="#2f6b8f" stroke-width="1.6"/>
<circle cx="403" cy="255.4" r="6.4" fill="#fff" stroke="#e8382e" stroke-width="1.6"/>
<circle cx="281.4" cy="326" r="6.4" fill="#fff" stroke="#7f7f7f" stroke-width="1.6"/>
<circle cx="342.6" cy="326" r="6.4" fill="#fff" stroke="#2f6b8f" stroke-width="1.6"/>
<circle cx="403" cy="326" r="6.4" fill="#fff" stroke="#e8382e" stroke-width="1.6"/>
<rect x="273.7" y="218.8" width="16" height="4.3" fill="#7f7f7f"/>
<rect x="333.5" y="231.7" width="16.6" height="4.6" fill="#2f6b8f"/>
<rect x="333.5" y="226.3" width="16.6" height="4.6" fill="#2f6b8f"/>
<rect x="395.0" y="240.9" width="16.8" height="4.5" fill="#e8382e"/>
<rect x="395.0" y="235.6" width="16.8" height="4.5" fill="#e8382e"/>
<rect x="395.0" y="230.3" width="16.8" height="4.5" fill="#e8382e"/>
<path d="M296.9,235.6C296.4,246 295.6,251.4 289,252.2L264,253.1" stroke="#0c0c0c" stroke-width="2.8" fill="none" stroke-linecap="butt"/>
<path d="M256.6,253.4L265.6,249.4L265.6,257.2Z" fill="#0c0c0c"/>
<path d="M380,323C380,313.5 380.6,308.2 387,308.1L423,308.1" stroke="#1010f0" stroke-width="2.8" fill="none"/>
<path d="M428.6,308.1L421.4,304.2L421.4,312Z" fill="#1010f0"/>
<text x="260.6" y="267.1" font-size="17" fill="#111" stroke="#111" stroke-width="0.25" class="it">κ</text>
<text x="267.2" y="269.9" font-size="12" fill="#111">||</text>
<text x="272.8" y="273.3" font-size="7.6" fill="#111">total</text>
<text x="288.6" y="266.4" font-size="15" fill="#111" text-anchor="start" >=</text>
<text x="302.7" y="267.1" font-size="17" fill="#111" stroke="#111" stroke-width="0.25" class="it">κ</text>
<text x="309.3" y="269.9" font-size="12" fill="#111">||</text>
<text x="316.0" y="273.3" font-size="7.6" fill="#111">L</text>
<text x="319.6" y="267" font-size="15" fill="#111" text-anchor="start" >+</text>
<text x="334.7" y="267.1" font-size="17" fill="#111" stroke="#111" stroke-width="0.25" class="it">κ</text>
<text x="341.3" y="269.9" font-size="12" fill="#111">||</text>
<text x="348.3" y="273.3" font-size="7.6" fill="#111">E</text>
<text x="357.0" y="300.7" font-size="17" fill="#1010f0" stroke="#1010f0" stroke-width="0.25" class="it">κ</text>
<text x="364.6" y="302.7" font-size="8.8" fill="#1010f0">||</text>
<text x="370.8" y="307.5" font-size="7" fill="#1010f0">E</text>
<text x="376" y="300.2" font-size="15" fill="#1010f0" text-anchor="start" >=</text>
<text x="388.2" y="300.6" font-size="15.4" fill="#1010f0" text-anchor="start" >L</text>
<text x="399.2" y="300.6" font-size="15.6" fill="#1010f0" class="sit">σ</text>
<text x="407.2" y="303" font-size="8.8" fill="#1010f0">||</text>
<text x="413.6" y="300.6" font-size="15.4" fill="#1010f0" text-anchor="start" >T</text>
<text x="253" y="371.8" font-size="13.9" fill="#111" text-anchor="start" textLength="178.8" lengthAdjust="spacingAndGlyphs">Number of the stacked PtSe<tspan font-size="10.2" dy="3.6">2</tspan></text>
<g transform="translate(233.0,312.7) rotate(-90)"><text x="0" y="0" font-size="14.8" class="it" fill="#111">κ</text><text x="7.4" y="2.4" font-size="9.4" fill="#111">||</text><text x="11.4" y="7.3" font-size="5.9" fill="#111">total</text><text x="23.8" y="0" font-size="13.3" fill="#111" textLength="54.3" lengthAdjust="spacingAndGlyphs">(W/m·K)</text></g>
<g transform="translate(451.2,309.1) rotate(-90)"><text x="0" y="0" font-size="15.2" class="it" fill="#1010f0">κ</text><text x="7.6" y="2.8" font-size="9.4" fill="#1010f0">||</text><text x="9.3" y="7.0" font-size="6.6" fill="#1010f0">E</text><text x="19.8" y="0" font-size="13.5" fill="#1010f0" textLength="52.3" lengthAdjust="spacingAndGlyphs">(W/m·K)</text></g>
<rect x="469.6" y="247" width="181.79999999999995" height="72" fill="url(#gF)"/>
<path d="M469.6,247H651.4" stroke="#111" stroke-width="2.3" stroke-dasharray="2 1.85" fill="none"/>
<path d="M469.6,318.5H651.4" stroke="#8a8a8a" stroke-width="1.4" stroke-dasharray="1.7 2.3" fill="none"/>
<rect x="469.6" y="204.5" width="181.79999999999995" height="140.3" fill="none" stroke="#0a0a0a" stroke-width="1.45"/>
<text x="654.2" y="328.9" font-size="11.8" fill="#111" text-anchor="start" >0</text>
<text x="654.2" y="290.3" font-size="11.8" fill="#111" text-anchor="start" >4</text>
<text x="654.2" y="251.6" font-size="11.8" fill="#111" text-anchor="start" >8</text>
<text x="654.2" y="213.0" font-size="11.8" fill="#111" text-anchor="start" >12</text>
<text x="499.7" y="358.7" font-size="11.8" fill="#111" text-anchor="middle" >1</text>
<text x="560.5" y="358.7" font-size="11.8" fill="#111" text-anchor="middle" >2</text>
<text x="621" y="358.7" font-size="11.8" fill="#111" text-anchor="middle" >3</text>
<path d="M469.6,344.0h3.4 M651.4,344.0h-2.6 M469.6,324.7h3.4 M651.4,324.7h-4 M469.6,305.4h3.4 M651.4,305.4h-2.6 M469.6,286.1h3.4 M651.4,286.1h-4 M469.6,266.7h3.4 M651.4,266.7h-2.6 M469.6,247.4h3.4 M651.4,247.4h-4 M469.6,228.1h3.4 M651.4,228.1h-2.6 M469.6,208.8h3.4 M651.4,208.8h-4 M499.7,344.8v-4 M530.1,344.8v-2.6 M560.5,344.8v-4 M590.9,344.8v-2.6 M621,344.8v-4" stroke="#0a0a0a" stroke-width="1.3" fill="none"/>
<rect x="491.1" y="296.0" width="17" height="4.6" fill="#7f7f7f"/>
<rect x="552.0" y="277.8" width="16.8" height="4.6" fill="#2f6b8f"/>
<rect x="552.0" y="272.4" width="16.8" height="4.6" fill="#2f6b8f"/>
<rect x="612.8" y="240.2" width="16.8" height="4.6" fill="#e8382e"/>
<rect x="612.8" y="234.8" width="16.8" height="4.6" fill="#e8382e"/>
<rect x="612.8" y="229.4" width="16.8" height="4.6" fill="#e8382e"/>
<circle cx="499.7" cy="310.6" r="6.3" fill="#fff" stroke="#7f7f7f" stroke-width="1.6"/>
<circle cx="560.6" cy="292" r="6.3" fill="#fff" stroke="#2f6b8f" stroke-width="1.6"/>
<circle cx="620.9" cy="255.5" r="6.3" fill="#fff" stroke="#e8382e" stroke-width="1.6"/>
<text x="499.8" y="330" font-size="15.2" fill="#7f7f7f" text-anchor="middle" >1.5</text>
<text x="560.4" y="312.4" font-size="15.2" fill="#2f6b8f" text-anchor="middle" >3.4</text>
<text x="620.7" y="276.8" font-size="15.2" fill="#e8382e" text-anchor="middle" >7.2</text>
<text x="471" y="371.8" font-size="13.9" fill="#111" text-anchor="start" textLength="179" lengthAdjust="spacingAndGlyphs">Number of the stacked PtSe<tspan font-size="10.2" dy="3.6">2</tspan></text>
<text transform="translate(681.8,272.8) rotate(-90)" font-size="14.1" fill="#111" text-anchor="middle">Figure of merit (×10<tspan font-size="9.5" dy="-5">-4</tspan><tspan dy="5">)</tspan></text>
</svg></body></html>
